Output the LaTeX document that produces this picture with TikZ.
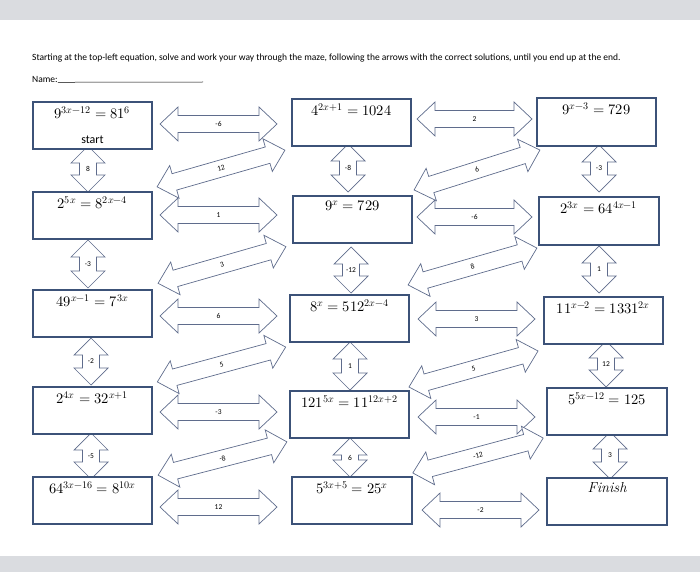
\documentclass[tikz,border=0pt]{standalone}
\usepackage{fontspec}
\setmainfont{Carlito}
\newfontfamily\lmr{Latin Modern Roman}
\usepackage{unicode-math}
\setmathfont{Latin Modern Math}
\begin{document}
\begin{tikzpicture}[x=1pt,y=-1pt,
  box/.style={draw=boxc,line width=1.6pt},
  arr/.style={draw=arrc,line width=0.7pt,fill=white},
  lab/.style={font=\fontsize{7.5}{8}\selectfont,inner sep=1pt},
  eq/.style={font=\fontsize{14.5}{15}\selectfont,anchor=north}]
\definecolor{boxc}{RGB}{60,82,120}
\definecolor{arrc}{RGB}{95,108,140}
\definecolor{band}{RGB}{218,220,224}
\useasboundingbox (0,0) rectangle (700,572);
\fill[band] (0,0) rectangle (700,20);
\fill[band] (0,556) rectangle (700,572);
\node[anchor=west,font=\fontsize{9.5}{10}\selectfont,inner sep=0] (hdr) at (32,58) {Starting at the top-left equation, solve and work your way through the maze, following the arrows with the correct solutions, until you end up at the end.};
\node[anchor=west,font=\fontsize{9.5}{10}\selectfont,inner sep=0] (nm) at (32,79) {Name:};
\draw[line width=0.5pt] (nm.south east) -- (203,82);
% double arrow macro: cx, cy, angle, length, label, head length, label options
\newcommand\darr[7]{%
\begin{scope}[shift={(#1,#2)},rotate=#3]
\draw[arr] (-#4/2,0) -- (-#4/2+#6,-17) -- (-#4/2+#6,-8.5) -- (#4/2-#6,-8.5) -- (#4/2-#6,-17) -- (#4/2,0) -- (#4/2-#6,17) -- (#4/2-#6,8.5) -- (-#4/2+#6,8.5) -- (-#4/2+#6,17) -- cycle;
\node[lab,#7] at (0,0) {#5};
\end{scope}}
% horizontal arrows col1-col2
\darr{218.5}{124}{0}{117}{-6}{18}{}
\darr{218.5}{215}{0}{117}{1}{18}{}
\darr{218.5}{316}{0}{117}{6}{18}{}
\darr{218.5}{412}{0}{117}{-3}{18}{}
\darr{218.5}{507}{0}{117}{12}{18}{}
% col2-col3
\darr{474.5}{119}{0}{115}{2}{18}{}
\darr{474.5}{217}{0}{115}{-6}{18}{}
\darr{476.5}{319}{0}{117}{3}{18}{}
\darr{476.5}{417}{0}{117}{-1}{18}{}
\darr{480.5}{510}{0}{117}{-2}{18}{}
% diagonal
\darr{221}{168.5}{16}{133}{12}{18}{transform shape}
\darr{222}{265}{16}{133}{3}{18}{transform shape}
\darr{221.5}{364.5}{15.2}{133}{5}{18}{transform shape}
\darr{222.5}{458.5}{14.5}{133}{-8}{18}{transform shape}
\darr{477}{170}{17.6}{132}{6}{18}{transform shape}
\darr{472.5}{266.5}{16}{134}{8}{18}{transform shape}
\darr{473.5}{369}{15.6}{134}{5}{18}{transform shape}
\darr{478}{455.5}{15}{135}{-12}{18}{transform shape}
% vertical
\darr{88}{169}{90}{46}{8}{17}{}
\darr{88}{264}{90}{48}{-3}{17}{}
\darr{91}{361.5}{90}{47}{-2}{17}{}
\darr{91}{456}{90}{46}{-5}{17}{}
\darr{348}{168}{90}{48}{-8}{17}{}
\darr{351}{270}{90}{46}{-12}{17}{}
\darr{350}{366}{90}{48}{1}{17}{}
\darr{350}{457.5}{90}{39}{6}{17}{}
\darr{599}{168.5}{90}{47}{-3}{17}{}
\darr{599}{269.5}{90}{47}{1}{17}{}
\darr{606}{364}{90}{46}{12}{17}{}
\darr{610}{455.5}{90}{47}{3}{17}{}
% boxes
\newcommand\eqbox[6]{%
\draw[box,fill=white] (#2,#3) rectangle (#4,#5);
\node[eq] (#1) at ({(#2+#4)/2},#3+1) {#6};}
\eqbox{a1}{33}{102}{152}{149}{$9^{3x-12}=81^6$}
\node[font=\fontsize{12}{13}\selectfont] (st) at (92.5,140) {start};
\eqbox{a2}{33}{192}{152}{239}{$2^{5x}=8^{2x-4}$}
\eqbox{a3}{33}{290}{152}{337}{$49^{x-1}=7^{3x}$}
\eqbox{a4}{33}{387}{152}{434}{$2^{4x}=32^{x+1}$}
\eqbox{a5}{33}{477}{152}{524}{$64^{3x-16}=8^{10x}$}
\eqbox{b1}{292}{99}{411}{146}{$4^{2x+1}=1024$}
\eqbox{b2}{293}{196}{412}{243}{$9^{x}=729$}
\eqbox{b3}{290}{295}{409}{342}{$8^{x}=512^{2x-4}$}
\eqbox{b4}{290}{391}{409}{438}{$121^{5x}=11^{12x+2}$}
\eqbox{b5}{292}{477}{412}{524}{$5^{3x+5}=25^{x}$}
\eqbox{c1}{537}{98}{656}{146}{$9^{x-3}=729$}
\eqbox{c2}{539}{197}{659}{245}{$2^{3x}=64^{4x-1}$}
\eqbox{c3}{544}{297}{663}{344}{$11^{x-2}=1331^{2x}$}
\eqbox{c4}{547}{388}{667}{435}{$5^{5x-12}=125$}
\eqbox{c5}{547}{478}{667}{525}{\lmr\itshape Finish}
\end{tikzpicture}
\end{document}
